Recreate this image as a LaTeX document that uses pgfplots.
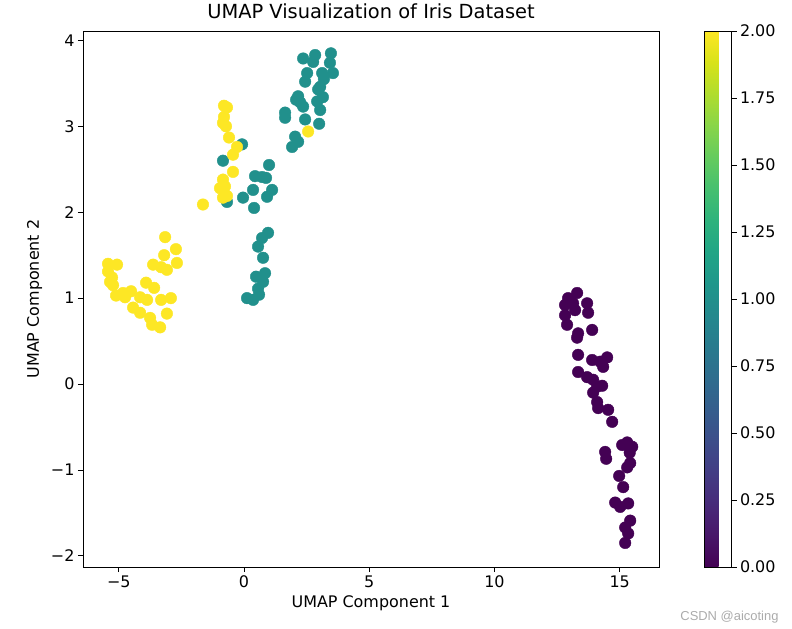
\documentclass[border=0pt]{standalone}
\usepackage{pgfplots}
\usepackage{pgfplotstable}
\pgfplotsset{compat=1.18}
\usepackage{fontspec}
\setmainfont{DejaVu Sans}
\newfontfamily\markfont{Liberation Sans}

% UMAP embedding: x, y, class label (0 = setosa, 1 = versicolor, 2 = virginica)
\pgfplotstableread{
x y c
13.30 1.06 0
12.94 1.00 0
12.82 0.92 0
13.14 0.94 0
13.70 0.94 0
13.74 0.83 0
12.82 0.80 0
13.22 0.86 0
12.90 0.69 0
13.90 0.63 0
13.34 0.59 0
13.30 0.54 0
13.34 0.34 0
13.90 0.28 0
14.22 0.26 0
14.50 0.31 0
14.34 0.20 0
13.34 0.14 0
13.70 0.08 0
13.94 0.05 0
14.10 -0.03 0
14.30 -0.02 0
13.94 -0.10 0
14.10 -0.21 0
14.14 -0.28 0
14.54 -0.30 0
14.70 -0.44 0
15.30 -0.68 0
15.10 -0.71 0
15.50 -0.73 0
15.40 -0.80 0
14.42 -0.79 0
14.46 -0.87 0
15.42 -0.92 0
15.30 -0.97 0
14.98 -1.07 0
15.14 -1.20 0
14.82 -1.38 0
15.02 -1.43 0
15.34 -1.39 0
15.42 -1.59 0
15.22 -1.67 0
15.34 -1.74 0
15.22 -1.85 0
-0.08 2.79 1
-0.84 2.60 1
1.00 2.55 1
0.44 2.42 1
0.72 2.41 1
0.88 2.40 1
0.36 2.26 1
1.12 2.26 1
0.92 2.18 1
-0.04 2.17 1
-0.68 2.12 1
0.40 2.05 1
0.96 1.76 1
0.72 1.70 1
0.56 1.60 1
0.76 1.47 1
0.84 1.29 1
0.48 1.25 1
0.76 1.19 1
0.56 1.11 1
0.60 1.04 1
0.12 1.00 1
0.36 0.98 1
2.36 3.79 1
2.84 3.83 1
3.47 3.85 1
2.76 3.75 1
3.43 3.74 1
2.52 3.62 1
3.55 3.62 1
3.12 3.62 1
3.19 3.55 1
2.44 3.52 1
3.04 3.46 1
2.96 3.43 1
2.08 3.31 1
2.24 3.28 1
2.16 3.35 1
2.36 3.23 1
2.92 3.29 1
3.15 3.34 1
3.04 3.19 1
1.64 3.16 1
1.64 3.10 1
2.44 3.08 1
3.00 3.03 1
2.04 2.88 1
2.16 2.82 1
1.92 2.76 1
-5.43 1.40 2
-5.07 1.39 2
-5.43 1.31 2
-5.27 1.24 2
-5.35 1.19 2
-5.23 1.15 2
-5.11 1.03 2
-4.83 1.06 2
-4.75 1.01 2
-4.51 1.08 2
-4.15 1.01 2
-3.91 1.18 2
-3.59 1.12 2
-3.87 0.98 2
-4.43 0.89 2
-4.15 0.83 2
-3.75 0.77 2
-3.67 0.69 2
-3.35 0.66 2
-3.15 1.71 2
-2.72 1.57 2
-3.19 1.50 2
-2.68 1.41 2
-3.63 1.39 2
-3.08 1.33 2
-3.31 1.36 2
-3.31 0.98 2
-2.92 1.00 2
-3.08 0.82 2
-0.80 3.24 2
-0.68 3.22 2
-0.80 3.11 2
-0.84 3.04 2
-0.72 3.00 2
-0.60 2.87 2
-0.28 2.76 2
-0.44 2.67 2
-0.44 2.47 2
-0.84 2.38 2
-0.96 2.28 2
-0.76 2.30 2
-0.84 2.17 2
-0.68 2.19 2
-1.64 2.09 2
2.56 2.94 2
}\umapdata

\begin{document}
\begin{tikzpicture}
\path[use as bounding box] (-83bp,-62bp) rectangle (709bp,567bp);
\begin{axis}[
  at={(0,0)}, anchor=south west,
  scale only axis, width=576bp, height=536bp,
  xmin=-6.43, xmax=16.57, ymin=-2.13, ymax=4.11,
  xtick={-5,0,5,10,15}, xticklabels={−5,0,5,10,15},
  ytick={-2,-1,0,1,2,3,4}, yticklabels={−2,−1,0,1,2,3,4},
  tick align=outside, tick pos=left,
  major tick length=5bp,
  every tick/.style={black, line width=0.8bp},
  axis line style={line width=0.8bp},
  ticklabel style={font=\fontsize{16}{18}\selectfont},
  title={UMAP Visualization of Iris Dataset},
  title style={font=\fontsize{19.5}{22}\selectfont, at={(0.5,1)}, anchor=south, yshift=3bp},
  xlabel={UMAP Component 1},
  ylabel={UMAP Component 2},
  label style={font=\fontsize{16}{18}\selectfont},
  xlabel style={yshift=-1bp},
  ylabel style={yshift=2bp},
  colormap/viridis,
  point meta min=0, point meta max=2,
  colorbar,
  colorbar style={
    width=27bp,
    at={(parent axis.north east)}, anchor=north west, xshift=37bp,
    ytick={0,0.25,0.5,0.75,1,1.25,1.5,1.75,2},
    yticklabels={0.00,0.25,0.50,0.75,1.00,1.25,1.50,1.75,2.00},
    tick align=outside, tick pos=right, yticklabel pos=right,
    major tick length=5bp,
    every tick/.style={black, line width=0.8bp},
    axis line style={line width=0.8bp},
    ticklabel style={font=\fontsize{16}{18}\selectfont},
  },
]
\addplot[scatter, only marks, mark=*, mark size=5.8bp,
  scatter/use mapped color={draw=mapped color, fill=mapped color},
  point meta=explicit]
  table[x=x, y=y, meta=c] {\umapdata};
\end{axis}
\node[anchor=base east, text=black!33, font=\markfont\fontsize{13}{15}\selectfont] at (699bp,-53bp) {CSDN @aicoting};
\end{tikzpicture}
\end{document}
